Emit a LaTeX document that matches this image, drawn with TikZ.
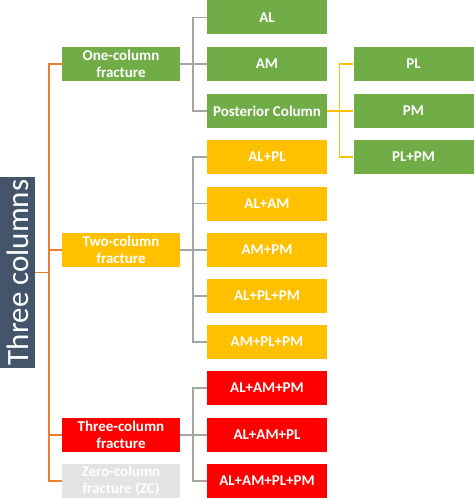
\documentclass[tikz,border=0pt]{standalone}
\usepackage{fontspec}
\setmainfont{Carlito}
\usepackage{tikz}

\definecolor{leafgreen}{HTML}{70AD47}
\definecolor{leafgold}{HTML}{FFC000}
\definecolor{leafred}{HTML}{FF0000}
\definecolor{leafgray}{HTML}{E4E3E3}
\definecolor{rootblue}{HTML}{44546A}
\definecolor{linkgray}{HTML}{A5A5A5}
\definecolor{linkorange}{HTML}{ED7D31}

\begin{document}
\begin{tikzpicture}[x=1pt, y=-1pt,
    box/.style={minimum width=120pt, minimum height=34pt, inner sep=0pt,
      text=white, align=center, font=\bfseries\fontsize{15}{17}\selectfont},
    groupbox/.style={box, minimum width=118pt},
    link/.style={draw=linkgray, line width=1.6pt},
    mainlink/.style={draw=linkorange, line width=1.6pt},
    sublink/.style={draw=leafgold, line width=1.6pt}]
      \useasboundingbox (0,0) rectangle (474,500);
      % root
      \node[fill=rootblue, text=white, rotate=90, minimum width=191pt, minimum height=35pt,
        inner sep=0pt, font=\fontsize{31}{33}\selectfont] (root) at (17.5,272.5) {Three columns};
      % groups
      \node[groupbox, fill=leafgreen] (one) at (121,64) {One-column\\fracture};
      \node[groupbox, fill=leafgold] (two) at (121,250) {Two-column\\fracture};
      \node[groupbox, fill=leafred] (three) at (121,435) {Three-column\\fracture};
      \node[groupbox, fill=leafgray] (zero) at (121,481) {Zero-column\\fracture (ZC)};
      % one column
      \node[box, fill=leafgreen] (al) at (267,17.5) {AL};
      \node[box, fill=leafgreen] (am) at (267,64) {AM};
      \node[box, fill=leafgreen] (pc) at (267,111) {Posterior Column};
      \node[box, fill=leafgreen] (pl) at (413.5,64) {PL};
      \node[box, fill=leafgreen] (pm) at (413.5,111) {PM};
      \node[box, fill=leafgreen] (plpm) at (413.5,157) {PL+PM};
      % two column
      \node[box, fill=leafgold] (alpl) at (267,157) {AL+PL};
      \node[box, fill=leafgold] (alam) at (267,203.5) {AL+AM};
      \node[box, fill=leafgold] (ampm) at (267,250) {AM+PM};
      \node[box, fill=leafgold] (alplpm) at (267,296) {AL+PL+PM};
      \node[box, fill=leafgold] (amplpm) at (267,342) {AM+PL+PM};
      % three column
      \node[box, fill=leafred] (alampm) at (267,388) {AL+AM+PM};
      \node[box, fill=leafred] (alampl) at (267,435) {AL+AM+PL};
      \node[box, fill=leafred] (alamplpm) at (267,481) {AL+AM+PL+PM};
      % orange bracket
      \draw[mainlink] (root.south) -- ++(14,0);
      \draw[mainlink] (one.west) -- ++(-13,0) |- (zero.west);
      \foreach \g in {two, three}
        \draw[mainlink] (\g.west) -- ++(-13,0);
      % gray brackets
      \draw[link] (one.east) -- (am.west);
      \draw[link] (al.west) -- ++(-14,0) |- (pc.west);
      \draw[link] (two.east) -- (ampm.west);
      \draw[link] (alpl.west) -- ++(-14,0) |- (amplpm.west);
      \foreach \c in {alam, alplpm}
        \draw[link] (\c.west) -- ++(-14,0);
      \draw[link] (three.east) -- (alampl.west);
      \draw[link] (alampm.west) -- ++(-14,0) |- (alamplpm.west);
      % posterior column
      \draw[sublink] (pc.east) -- (pm.west);
      \draw[sublink] (pl.west) -- ++(-14,0) |- (plpm.west);
    \end{tikzpicture}
\end{document}
